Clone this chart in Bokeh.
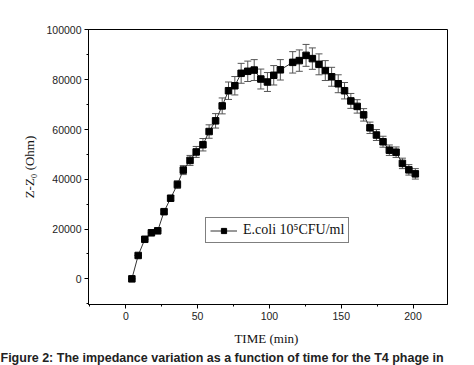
from bokeh.plotting import figure
from bokeh.models import (ColumnDataSource, Whisker, TeeHead, Range1d, SingleIntervalTicker,
                          BasicTickFormatter, Legend, LegendItem, Title)
from bokeh.embed import file_html
from bokeh.resources import INLINE

# Data
time_min = [4.2, 8.6, 13.2, 17.8, 22.2, 26.6, 31.2, 35.9, 40.0, 44.7,
            49.0, 53.7, 58.0, 62.5, 67.1, 71.5, 75.9, 80.3, 84.9, 89.4,
            94.0, 98.6, 103.0, 107.6, 116.2, 120.8, 125.5, 129.9, 134.5, 138.9,
            143.3, 147.9, 152.3, 156.7, 161.1, 165.6, 170.0, 174.5, 179.1, 183.5,
            188.2, 192.6, 197.1, 201.6]
impedance = [0, 9400, 15900, 18500, 19300, 27000, 32400, 37900, 43700, 47600,
             51000, 53900, 59200, 63500, 69500, 75600, 77600, 82600, 83400, 83900,
             80300, 79100, 81800, 84000, 87000, 87700, 89800, 88500, 86200, 83700,
             81200, 78400, 75600, 71500, 69300, 65900, 60700, 57800, 55100, 51700,
             50900, 46400, 43800, 42200]
error = [0, 0, 0, 0, 0, 700, 1000, 1500, 1800, 2000,
         2200, 2500, 2700, 2900, 3200, 3500, 3700, 4000, 4100, 4200,
         4000, 3800, 3900, 4100, 4300, 4300, 4400, 4300, 4200, 4000,
         3800, 3600, 3300, 3000, 2700, 2500, 2300, 2200, 2200, 2100,
         2100, 2100, 2100, 2100]
x_ticks_interval = 50
y_ticks_interval = 20000
legend_label = "E.coli 10\u2075CFU/ml"
x_label = "TIME  (min)"
y_label = "Z-Z\u2080 (Ohm)"
caption = "Figure 2: The impedance variation as a function of time for the T4 phage in"

src = ColumnDataSource(dict(
    x=time_min, y=impedance,
    upper=[v + e for v, e in zip(impedance, error)],
    lower=[v - e for v, e in zip(impedance, error)],
))

p = figure(width=474, height=365, output_backend="svg", toolbar_location=None,
           x_range=Range1d(-26, 224), y_range=Range1d(-10300, 100200),
           min_border_left=88, min_border_right=27, min_border_top=29, min_border_bottom=61)

p.background_fill_color = "white"
p.border_fill_color = "white"
p.grid.visible = False
p.outline_line_color = "black"
p.outline_line_width = 1

# axes
for ax in (p.xaxis[0], p.yaxis[0]):
    ax.axis_line_color = "black"
    ax.major_tick_line_color = "black"
    ax.minor_tick_line_color = "black"
    ax.major_tick_out = 4
    ax.major_tick_in = 0
    ax.minor_tick_out = 2
    ax.minor_tick_in = 0
    ax.major_label_text_font = "Liberation Sans"
    ax.major_label_text_font_size = "10.5px"
    ax.major_label_text_color = "#222222"
    ax.axis_label_text_font = "Liberation Serif"
    ax.axis_label_text_font_size = "13px"
    ax.axis_label_text_font_style = "normal"
    ax.axis_label_text_color = "#111111"

p.xaxis.ticker = SingleIntervalTicker(interval=x_ticks_interval, num_minor_ticks=2)
p.yaxis.ticker = SingleIntervalTicker(interval=y_ticks_interval, num_minor_ticks=2)
p.yaxis.formatter = BasicTickFormatter(use_scientific=False)
p.xaxis.major_label_standoff = 3
p.yaxis.major_label_standoff = 3
p.xaxis.axis_label = x_label
p.yaxis.axis_label = y_label
p.xaxis.axis_label_standoff = 8
p.yaxis.axis_label_standoff = 6

# error bars
wh = Whisker(source=src, base="x", upper="upper", lower="lower",
             line_color="#555555", line_width=1,
             upper_head=TeeHead(size=7, line_color="#555555", line_width=1),
             lower_head=TeeHead(size=7, line_color="#555555", line_width=1))
p.add_layout(wh)

ln = p.line("x", "y", source=src, line_color="#333333", line_width=1)
sq = p.scatter("x", "y", source=src, marker="square", size=6.5,
               fill_color="black", line_color="black")

legend = Legend(items=[LegendItem(label=legend_label, renderers=[ln, sq])],
                location=(117, 61), margin=0, padding=4, spacing=0,
                glyph_width=27, glyph_height=13, label_standoff=6,
                label_text_font="Liberation Serif", label_text_font_size="14px",
                label_text_color="#111111",
                border_line_color="black", border_line_width=1,
                background_fill_alpha=1.0)
p.add_layout(legend)

cap = Title(text=caption, text_font="Liberation Sans", text_font_size="12.5px",
            text_font_style="bold", align="left", offset=-88, standoff=0,
            text_color="#222222")
p.add_layout(cap, "below")

open("out.html", "w").write(file_html(p, INLINE))
